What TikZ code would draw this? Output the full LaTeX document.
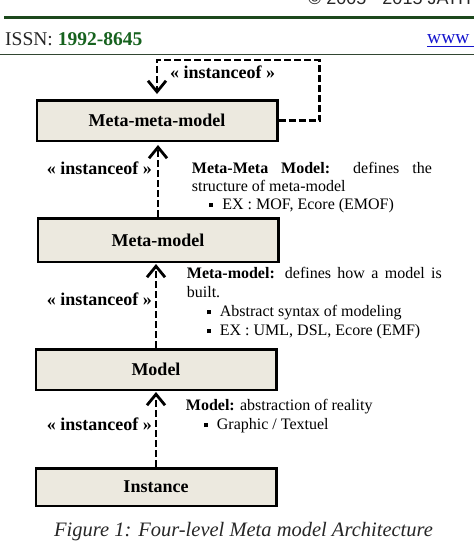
\documentclass[tikz,border=0pt]{standalone}
\usepackage{fontspec}
\setmainfont{Liberation Serif}
\newfontfamily\headsans{Liberation Sans}
\usetikzlibrary{arrows.meta}

\definecolor{boxfill}{RGB}{236,233,223}
\definecolor{headgreen}{RGB}{28,72,28}
\definecolor{issngreen}{RGB}{22,98,30}
\definecolor{linkblue}{RGB}{20,20,205}
\definecolor{ruleline}{RGB}{50,70,50}

\newcommand\bulletline[2][18pt]{\hspace*{#1}\rule[2pt]{4pt}{4pt}\hspace{9pt}#2}

\tikzset{
  levelbox/.style={draw, line width=2.5pt, fill=boxfill, minimum width=240.5pt,
    inner sep=0pt, font=\fontsize{18}{20}\selectfont\bfseries},
  instarrow/.style={line width=2.5pt, dash pattern=on 7pt off 3pt,
    -{Straight Barb[length=11pt,width=18pt,line width=2.8pt]}},
  instlabel/.style={inner sep=0pt, anchor=base east, font=\fontsize{18}{20}\selectfont\bfseries},
  desc/.style={inner sep=0pt, anchor=base west, align=left, font=\fontsize{16}{18.3}\selectfont}
}

\begin{document}
\begin{tikzpicture}[x=1pt,y=-1pt]
\useasboundingbox (0,0) rectangle (474,542);

% Header
\node[anchor=base west, inner sep=0pt, text=black!85, font=\headsans\fontsize{18}{20}\selectfont] (copyr) at (308,4.5) {© 2005 - 2015 JATIT};
\draw[headgreen, line width=3pt] (4,17.5) -- (474,17.5);
\node[anchor=base west, inner sep=0pt, text=black!85, font=\fontsize{19.5}{21}\selectfont] (issn) at (5,45) {ISSN: \textcolor{issngreen}{\textbf{1992-8645}}};
\node[anchor=base west, inner sep=0pt, text=linkblue, font=\fontsize{19.5}{21}\selectfont] (www) at (427,43) {www};
\draw[linkblue, line width=1pt] ([yshift=-3pt]www.base west) -- ++(47,0);
\draw[ruleline, line width=1.2pt] (0,54.5) -- (474,54.5);

% Levels
\node[levelbox, minimum height=40.5pt] (metameta) at (157,120.5) {Meta-meta-model};
\node[levelbox, minimum height=43.5pt] (meta) at (158,240) {Meta-model};
\node[levelbox, minimum height=40.5pt] (model) at (156,369.5) {Model};
\node[levelbox, minimum height=37.5pt] (instance) at (156,487) {Instance};

% Instanceof arrows
\draw[instarrow, shorten >=3pt] (meta.north) -- (meta.north |- metameta.south);
\draw[instarrow, shorten >=1pt] (model.north) -- (model.north |- meta.south);
\draw[instarrow, shorten >=1pt] (instance.north) -- (instance.north |- model.south);
\draw[instarrow, shorten >=5pt] (metameta.east) -- ++(41,0) -- ++(0,-60.5) -| (metameta.north);

\node[instlabel, anchor=base west] (toplab) at (170,78) {« instanceof »};
\node[instlabel] (lab1) at (152,174) {« instanceof »};
\node[instlabel] (lab2) at (152,305) {« instanceof »};
\node[instlabel] (lab3) at (152,430) {« instanceof »};

% Descriptions (anchored on their last line)
\node[desc, font=\fontsize{16}{17.9}\selectfont] (mmdesc) at (191.7,209) {\makebox[240pt][s]{\textbf{Meta-Meta Model:} defines the}\\
  structure of meta-model\\
  \bulletline[17.5pt]{EX : MOF, Ecore (EMOF)}};
\node[desc, font=\fontsize{16}{18.7}\selectfont] (mdesc) at (186.7,335) {\makebox[255pt][s]{\textbf{Meta-model:} defines how a model is}\\
  built.\\
  \bulletline[20pt]{Abstract syntax of modeling}\\
  \bulletline[20pt]{EX : UML, DSL, Ecore (EMF)}};
\node[desc] (modesc) at (185.7,429) {\textbf{Model:} abstraction of reality\\
  \bulletline{Graphic / Textuel}};

% Caption
\node[anchor=base west, inner sep=0pt, text=black!85, font=\fontsize{20.5}{22}\selectfont\itshape] (caption) at (54,536.7) {Figure 1: Four-level Meta model Architecture};
\end{tikzpicture}
\end{document}
